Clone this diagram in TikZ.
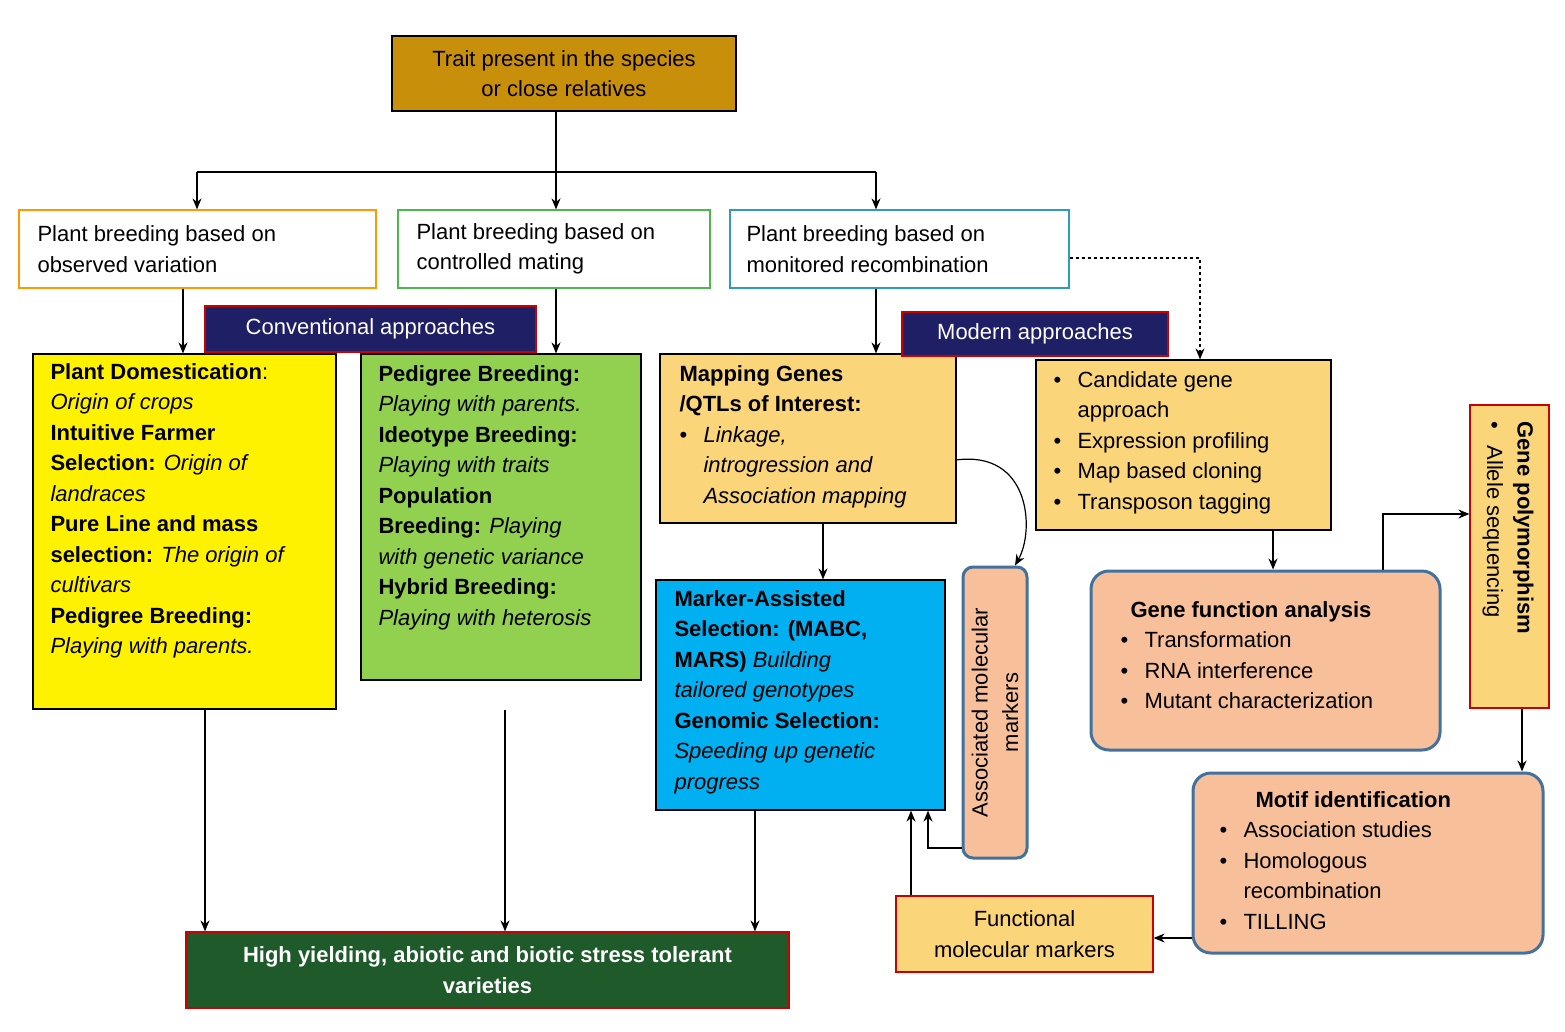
\documentclass[tikz,border=0pt]{standalone}
\usepackage{fontspec}
\setmainfont{Liberation Sans}
\usetikzlibrary{arrows.meta}
\definecolor{gold}{HTML}{C8900A}
\definecolor{navy}{HTML}{1F1F66}
\definecolor{lgreen}{HTML}{92D050}
\definecolor{lyel}{HTML}{FAD57A}
\definecolor{cyanb}{HTML}{00B0F0}
\definecolor{peach}{HTML}{F8C09A}
\definecolor{bord}{HTML}{41719C}
\definecolor{dgreen}{HTML}{1E5A2A}
\newcommand{\bx}[1]{\makebox[24pt][l]{\textbullet}#1}
\newcommand{\ind}{\hspace*{24pt}}
\begin{document}
\begin{tikzpicture}[x=1pt,y=-1pt,
  txt/.style={font=\fontsize{22}{30.5}\selectfont},
  box/.style={draw,line width=1.2pt,txt,inner sep=0pt},
  rbox/.style={draw=bord,line width=3pt,fill=peach,rounded corners=18pt,txt},
  arr/.style={-{Stealth[length=11pt,width=9pt]},line width=1.5pt}]
\useasboundingbox (0,0) rectangle (1565,1031);
% boxes
\node[box,fill=gold,minimum width=344pt,minimum height=75pt,align=center] (top) at (564,73.5) {Trait present in the species\\or close relatives};
\node[box,draw=orange!80!yellow,minimum width=357pt,minimum height=78pt] (b1) at (197.5,249) {};
\node[txt,anchor=west,align=left] at (34,249) {Plant breeding based on\\observed variation};
\node[box,draw=green!60!black!70,minimum width=312pt,minimum height=78pt] (b2) at (554,249) {};
\node[txt,anchor=west,align=left] at (413,249) {Plant breeding based on\\controlled mating};
\node[box,draw=bord!70!cyan,minimum width=339pt,minimum height=78pt] (b3) at (899.5,249) {};
\node[txt,anchor=west,align=left] at (743,249) {Plant breeding based on\\monitored recombination};
\node[box,fill=yellow,draw=black,minimum width=303pt,minimum height=355pt] (yb) at (184.5,531.5) {};
\node[txt,anchor=north west,align=left] at (47,360) {\textbf{Plant Domestication}:\\\textit{Origin of crops}\\\textbf{Intuitive Farmer}\\\textbf{Selection:} \textit{Origin of}\\\textit{landraces}\\\textbf{Pure Line and mass}\\\textbf{selection:} \textit{The origin of}\\\textit{cultivars}\\\textbf{Pedigree Breeding:}\\\textit{Playing with parents.}};
\node[box,fill=lgreen,draw=black,minimum width=280pt,minimum height=326pt] (gb) at (501,517) {};
\node[txt,anchor=north west,align=left] at (375,362) {\textbf{Pedigree Breeding:}\\\textit{Playing with parents.}\\\textbf{Ideotype Breeding:}\\\textit{Playing with traits}\\\textbf{Population}\\\textbf{Breeding:} \textit{Playing}\\\textit{with genetic variance}\\\textbf{Hybrid Breeding:}\\\textit{Playing with heterosis}};
\node[box,fill=navy,draw=red!80!black,text=white,minimum width=331pt,minimum height=46pt] (conv) at (370.5,329) {Conventional approaches};
\node[box,fill=lyel,draw=black,minimum width=296pt,minimum height=169pt] (map) at (808,438.5) {};
\node[txt,anchor=north west,align=left] at (676,362) {\textbf{Mapping Genes}\\\textbf{/QTLs of Interest:}\\\bx{\textit{Linkage,}}\\\ind\textit{introgression and}\\\ind\textit{Association mapping}};
\node[box,fill=lyel,draw=black,minimum width=295pt,minimum height=170pt] (cand) at (1183.5,445) {};
\node[txt,anchor=north west,align=left] at (1050,368) {\bx{Candidate gene}\\\ind approach\\\bx{Expression profiling}\\\bx{Map based cloning}\\\bx{Transposon tagging}};
\node[box,fill=navy,draw=red!80!black,text=white,minimum width=266pt,minimum height=44pt] (mod) at (1035,334) {Modern approaches};
\node[box,fill=cyanb,draw=black,minimum width=289pt,minimum height=230pt] (mas) at (800.5,695) {};
\node[txt,anchor=north west,align=left] at (671,587) {\textbf{Marker-Assisted}\\\textbf{Selection: (MABC,}\\\textbf{MARS)} \textit{Building}\\\textit{tailored genotypes}\\\textbf{Genomic Selection:}\\\textit{Speeding up genetic}\\\textit{progress}};
\node[rbox,rounded corners=10pt,minimum width=64pt,minimum height=291pt,inner sep=0pt] (assoc) at (995,712.5) {};
\node[txt,rotate=90,align=center] at (995,712.5) {Associated molecular\\markers};
\node[rbox,minimum width=349pt,minimum height=179pt] (gfa) at (1265.5,660.5) {};
\node[txt,anchor=north west,align=left] at (1117,598) {\hspace*{10pt}\textbf{Gene function analysis}\\\bx{Transformation}\\\bx{RNA interference}\\\bx{Mutant characterization}};
\node[box,fill=lyel,draw=red!80!black,minimum width=79pt,minimum height=303pt] (poly) at (1509.5,556.5) {};
\node[txt,rotate=-90,anchor=north west,align=left] at (1537,418) {\textbf{Gene polymorphism}\\\bx{Allele sequencing}};
\node[rbox,minimum width=350pt,minimum height=180pt] (motif) at (1368,863) {};
\node[txt,anchor=north west,align=left] at (1216,788) {\hspace*{36pt}\textbf{Motif identification}\\\bx{Association studies}\\\bx{Homologous}\\\ind recombination\\\bx{TILLING}};
\node[box,fill=lyel,draw=red!80!black,minimum width=257pt,minimum height=76pt,align=center] (func) at (1024.5,934) {Functional\\molecular markers};
\node[box,fill=dgreen,draw=red!80!black,text=white,minimum width=603pt,minimum height=76pt,align=center,font=\fontsize{22}{30.5}\selectfont\bfseries] (bot) at (487.5,970) {High yielding, abiotic and biotic stress tolerant\\varieties};
% connectors
\coordinate (j) at (556,172);
\draw[line width=1.5pt] (top.south -| j) -- (j);
\draw[line width=1.5pt] (197,172) -- (876,172);
\draw[arr] (197,172) -- (b1.north -| 197,0);
\draw[arr] (j) -- (b2.north -| j);
\draw[arr] (876,172) -- (b3.north -| 876,0);
\draw[arr] (b1.south -| 183,0) -- (yb.north -| 183,0);
\draw[arr] (b2.south -| 556,0) -- (gb.north -| 556,0);
\draw[arr] (b3.south -| 876,0) -- (map.north -| 876,0);
\draw[arr,dashed] (b3.east |- 0,258) -- (1200,258) -- (cand.north -| 1200,0);
\draw[arr] (yb.south -| 205,0) -- (bot.north -| 205,0);
\draw[arr] (505,710) -- (bot.north -| 505,0);
\draw[arr] (mas.south -| 755,0) -- (bot.north -| 755,0);
\draw[arr] (map.south -| 823,0) -- (mas.north -| 823,0);
\draw[arr,line width=1.2pt] (956,460) .. controls (1030,450) and (1035,530) .. (assoc.north -| 1015,0);
\draw[arr] (cand.south -| 1273,0) -- (gfa.north -| 1273,0);
\draw[arr] (gfa.north -| 1383,0) -- (1383,514) -- (poly.west |- 0,514);
\draw[arr] (poly.south -| 1522,0) -- (motif.north -| 1522,0);
\draw[arr] (motif.west |- 0,938) -- (func.east |- 0,938);
\draw[arr] (func.north -| 911,0) -- (mas.south -| 911,0);
\draw[arr] (assoc.west |- 0,848) -- (928,848) -- (mas.south -| 928,0);
\end{tikzpicture}
\end{document}
